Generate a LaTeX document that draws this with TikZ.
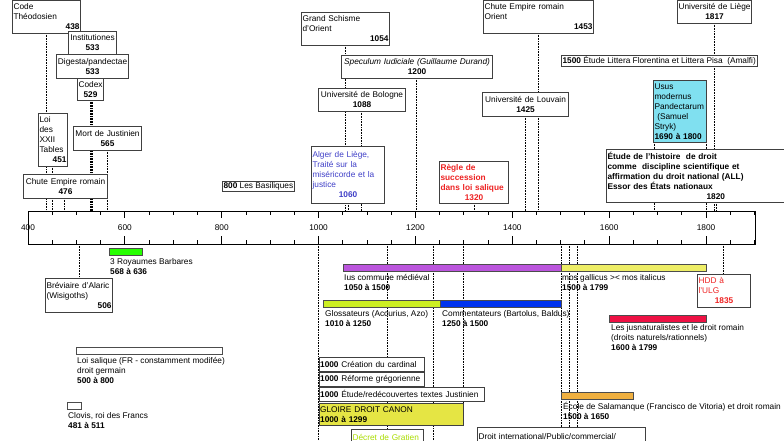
\documentclass[tikz,border=0pt]{standalone}
\usepackage{fontspec}
\setmainfont{Liberation Sans}
\newcommand\ff{\fontsize{8.3}{10}\selectfont}
\newcommand\cy[1]{\hspace*{\fill}#1\hspace*{\fill}}
\definecolor{algc}{HTML}{4040C8}
\definecolor{redc}{HTML}{EE2222}
\definecolor{cyanc}{HTML}{80E0F0}
\definecolor{limec}{HTML}{AADD00}
\begin{document}
\begin{tikzpicture}[x=1pt,y=-1pt,
  bx/.style={draw=black!75,line width=0.7pt,fill=white,anchor=north west,inner sep=1.2pt,align=left,font=\ff},
  bar/.style={draw=black!70,line width=0.6pt,anchor=north west,minimum height=7pt,inner sep=0pt},
  lab/.style={anchor=north west,inner sep=0pt,align=left,font=\ff},
  dl/.style={densely dotted,line width=0.6pt}]
\useasboundingbox (0,0) rectangle (784,441);
% ---- dotted lines (drawn first)
\draw[dl] (46,33) -- (46,211);
\draw[dl] (52,166) -- (52,211);
\draw[dl] (64,198) -- (64,211);
\draw[dl] (90.5,100) -- (90.5,211);
\draw[dl] (91.5,100) -- (91.5,211);
\draw[dl] (92.4,100) -- (92.4,211);
\draw[dl] (107,150) -- (107,211);
\draw[dl] (345,45) -- (345,211);
\draw[dl] (348,203) -- (348,211);
\draw[dl] (361,111) -- (361,211);
\draw[dl] (416,78) -- (416,211);
\draw[dl] (474,203) -- (474,211);
\draw[dl] (525,116) -- (525,211);
\draw[dl] (538,33) -- (538,211);
\draw[dl] (654,142) -- (654,211);
\draw[dl] (706,142) -- (706,211);
\draw[dl] (714,23) -- (714,211);
\draw[dl] (716,202) -- (716,211);
\draw[dl] (79,244) -- (79,278);
\draw[dl] (318.6,244) -- (318.6,441);
\draw[dl] (387,244) -- (387,429);
\draw[dl] (433,244) -- (433,441);
\draw[dl] (463,244) -- (463,403);
\draw[dl] (561,244) -- (561,441);
\draw[dl] (569,244) -- (569,441);
\draw[dl] (577,244) -- (577,441);
\draw[dl] (723,244) -- (723,274);
% ---- axis
\draw[line width=0.8pt] (28,211) rectangle (755,244);
\foreach \i in {0,...,30}{
  \pgfmathsetmacro\xx{28+\i*24.21}
  \pgfmathtruncatemacro\mm{mod(\i,4)}
  \ifnum\mm=0
    \draw[line width=0.7pt] (\xx,211) -- (\xx,218) (\xx,244) -- (\xx,236);
  \else
    \draw[line width=0.7pt] (\xx,211) -- (\xx,215) (\xx,244) -- (\xx,240);
  \fi}
\foreach \y in {400,600,...,1800}{
  \node[font=\ff,inner sep=0pt] (ax\y) at ({28+(\y-400)*0.4843},228) {\y};}
% ---- boxes above axis
\node[bx,text width=66pt,minimum height=33pt] (cod) at (12,0) {Code\\Théodosien\\\cy{\textbf{438}}};
\node[bx,text width=46pt,minimum height=23pt,align=center] (inst) at (68,31) {Institutiones\\\textbf{533}};
\node[bx,text width=70pt,minimum height=24pt,align=center] (dig) at (56,54) {Digesta/pandectae\\\textbf{533}};
\node[bx,text width=24pt,minimum height=22pt,align=center] (codex) at (77,78) {Codex\\\textbf{529}};
\node[bx,text width=27pt,minimum height=53pt] (loi) at (38,113) {Loi\\des\\XXII\\Tables\\\cy{\textbf{451}}};
\node[bx,text width=66pt,minimum height=24pt,align=center] (mort) at (73,126) {Mort de Justinien\\\textbf{565}};
\node[bx,text width=82pt,minimum height=24pt,align=center] (chute) at (23,174) {Chute Empire romain\\\textbf{476}};
\node[bx] (bas) at (222,181) {\textbf{800}\ Les Basiliques};
\node[bx,text width=86pt,minimum height=33pt] (gs) at (301,12) {Grand Schisme\\d'Orient\\\cy{\textbf{1054}}};
\node[bx,text width=149pt,minimum height=23pt,align=center] (spec) at (341,55) {\textit{Speculum Iudiciale (Guillaume Durand)}\\\textbf{1200}};
\node[bx,text width=85pt,minimum height=23pt,align=center] (bol) at (318,88) {Université de Bologne\\\textbf{1088}};
\node[bx,text width=71pt,minimum height=57pt,text=algc] (alg) at (311,146) {Alger de Liège,\\Traité sur la\\miséricorde et la\\justice\\\cy{\textbf{1060}}};
\node[bx,text width=67pt,minimum height=42pt,text=redc,font=\ff\bfseries] (regle) at (439,161) {Règle de\\succession\\dans loi salique\\\cy{1320}};
\node[bx,text width=108pt,minimum height=33pt] (ceo) at (483,0) {Chute Empire romain\\Orient\\\cy{\textbf{1453}}};
\node[bx,text width=84pt,minimum height=24pt,align=center] (louv) at (482,92) {Université de Louvain\\\textbf{1425}};
\node[bx,text width=72pt,minimum height=23pt,align=center] (liege) at (677,0) {Université de Liège\\\textbf{1817}};
\node[bx] (litt) at (561,55) {\textbf{1500}\ Étude Littera Florentina et Littera Pisa\ \ (Amalfi)};
\node[bx,fill=cyanc,text width=51pt,minimum height=62pt] (usus) at (653,80) {Usus\\modernus\\Pandectarum\\\ (Samuel\\Stryk)\\\textbf{1690 à 1800}};
\node[bx,text width=178pt,minimum height=53pt,font=\ff\bfseries] (hist) at (606,149) {Étude de l'histoire\ \ de droit\\comme\ \ discipline scientifique et\\affirmation du droit national (ALL)\\Essor des États nationaux\\\hspace*{99pt}1820};
% ---- below axis
\node[bar,fill=green!80!lime,minimum width=33pt] (b1) at (109,248) {};
\node[lab] (l1) at (110,258) {3 Royaumes Barbares\\\textbf{568 à 636}};
\node[bx,text width=65pt,minimum height=34pt] (brev) at (45,278) {Bréviaire d'Alaric\\(Wisigoths)\\\cy{\textbf{506}}};
\node[bar,fill=white,minimum width=146pt] (b2) at (76,347) {};
\node[lab] (l2) at (77,357) {Loi salique (FR - constamment modifée)\\droit germain\\\textbf{500 à 800}};
\node[bar,fill=white,minimum width=14pt] (b3) at (67,402) {};
\node[lab] (l3) at (68,412) {Clovis, roi des Francs\\\textbf{481 à 511}};
\node[bar,fill={rgb,255:red,187;green,85;blue,221},minimum width=218pt] (b4) at (343,264) {};
\node[lab] (l4) at (344,274) {Ius commune médiéval\\\textbf{1050 à 1500}};
\node[bar,fill={rgb,255:red,238;green,238;blue,102},minimum width=145pt] (b5) at (561,264) {};
\node[lab] (l5) at (562,274) {mos gallicus >< mos italicus\\\textbf{1500 à 1799}};
\node[bar,fill={rgb,255:red,204;green,238;blue,34},minimum width=117pt] (b6) at (323,300) {};
\node[lab] (l6) at (325,310) {Glossateurs (Accurius, Azo)\\\textbf{1010 à 1250}};
\node[bar,fill={rgb,255:red,0;green,51;blue,238},minimum width=121pt] (b7) at (440,300) {};
\node[lab] (l7) at (442,310) {Commentateurs (Bartolus, Baldus)\\\textbf{1250 à 1500}};
\node[bx,text width=51pt,minimum height=33pt,text=redc] (hdd) at (697,274) {HDD à\\l'ULG\\\cy{\textbf{1835}}};
\node[bar,fill={rgb,255:red,238;green,17;blue,68},minimum width=97pt] (b8) at (609,315) {};
\node[lab] (l8) at (611,324) {Les jusnaturalistes et le droit romain\\(droits naturels/rationnels)\\\textbf{1600 à 1799}};
\node[bx,text width=103pt,minimum height=14pt] (car) at (318.6,357) {\textbf{1000}\ Création du cardinal};
\node[bx,text width=103pt,minimum height=14pt] (greg) at (318.6,372) {\textbf{1000}\ Réforme grégorienne};
\node[bx,text width=163pt,minimum height=14pt] (just) at (318.6,387) {\textbf{1000}\ Étude/redécouvertes textes Justinien};
\node[bx,fill={rgb,255:red,229;green,229;blue,68},text width=142pt,minimum height=22pt] (canon) at (318.6,403) {GLOIRE DROIT CANON\\\textbf{1000 à 1299}};
\node[bx,text width=70pt,minimum height=16pt,text=limec] (grat) at (351,429) {Décret de Gratien};
\node[bx,text width=166pt,minimum height=18pt] (dint) at (477,427) {Droit international/Public/commercial/};
\node[bar,fill={rgb,255:red,240;green,176;blue,64},minimum width=72pt] (b9) at (561,392) {};
\node[lab] (l9) at (563,402) {École de Salamanque (Francisco de Vitoria) et droit romain\\\textbf{1500 à 1650}};
\end{tikzpicture}
\end{document}
